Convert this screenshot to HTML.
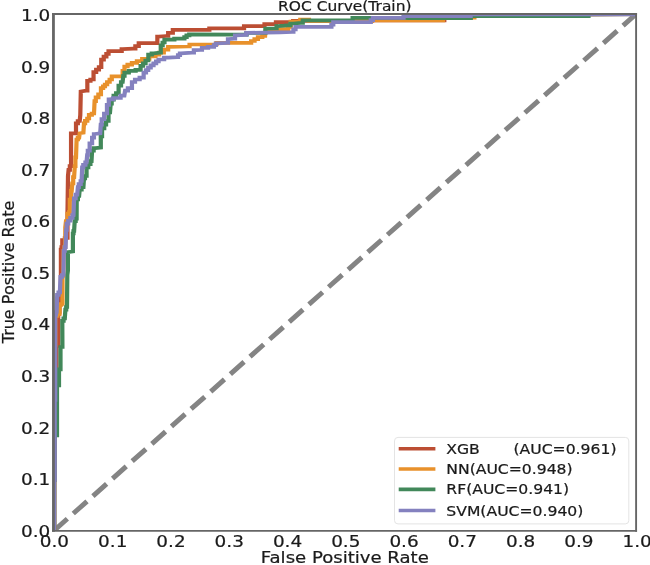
<!DOCTYPE html>
<html><head><meta charset="utf-8"><title>ROC Curve(Train)</title>
<style>
html,body{margin:0;padding:0;background:#fff;}
svg{display:block;filter:blur(0.35px);}
text{font-family:"DejaVu Sans","Liberation Sans",sans-serif;fill:#1a1a1a;stroke:#1a1a1a;stroke-width:0.22px;}
.tick{font-size:15.6px;}
.lab{font-size:16px;}
.sm{font-size:13.7px;}
.curve{fill:none;stroke-width:3.7;stroke-linejoin:miter;stroke-linecap:butt;}
</style></head><body>
<svg width="650" height="565" viewBox="0 0 650 565">
<rect width="650" height="565" fill="#fff"/>
<defs><clipPath id="ax"><rect x="53.45" y="14.1" width="582.65" height="516.8"/></clipPath></defs>
<g clip-path="url(#ax)">
<line x1="53.650000000000006" y1="530.9" x2="636.1" y2="14.1" stroke="#848484" stroke-width="4.95" stroke-dasharray="18.33 7.92"/>
<path class="curve" transform="scale(1.14,1)" stroke="#BC4E33" d="M47.54,530.90 L47.54,480.00 L47.89,480.00 L47.89,368.00 L49.56,368.00 L49.56,346.00 L51.05,346.00 L51.05,314.00 L51.62,314.00 L51.62,312.00 L52.19,312.00 L52.19,296.00 L52.81,296.00 L52.81,294.00 L53.42,294.00 L53.42,249.60 L54.04,249.60 L54.04,247.00 L54.65,247.00 L54.65,240.00 L56.93,240.00 L56.93,238.00 L59.21,238.00 L59.21,212.00 L59.65,176.00 L60.18,169.80 L61.25,169.80 L61.25,166.10 L62.32,166.10 L62.32,133.30 L66.67,133.30 L66.67,123.40 L68.29,123.40 L68.29,121.00 L69.91,121.00 L70.44,114.80 L70.88,91.50 L75.53,90.70 L76.62,90.70 L76.62,80.80 L77.72,80.80 L79.34,80.80 L79.34,79.50 L80.96,79.50 L82.06,79.50 L82.06,72.10 L83.16,72.10 L84.36,72.10 L84.36,69.65 L85.57,69.65 L86.78,69.65 L86.78,67.20 L87.98,67.20 L88.82,67.20 L88.82,59.70 L89.65,59.70 L91.01,59.70 L91.01,56.60 L92.37,56.60 L93.31,56.60 L93.31,53.85 L94.25,53.85 L95.20,53.85 L95.20,51.10 L96.14,51.10 L105.96,51.10 L106.75,51.10 L106.75,49.20 L107.54,49.20 L116.84,48.60 L118.73,48.60 L118.73,46.10 L120.61,46.10 L121.71,46.10 L121.71,43.20 L122.81,43.20 L136.93,43.20 L138.03,43.20 L138.03,36.60 L139.12,36.60 L145.61,36.00 L147.50,36.00 L147.50,32.90 L149.39,32.90 L151.58,32.90 L151.58,29.80 L153.77,29.80 L182.54,29.80 L183.64,29.80 L183.64,28.30 L184.74,28.30 L212.98,28.30 L214.08,28.30 L214.08,26.10 L215.18,26.10 L230.96,26.10 L232.02,26.10 L232.02,24.20 L233.07,24.20 L240.70,24.20 L242.06,24.20 L242.06,22.10 L243.42,22.10 L256.40,22.10 L257.15,22.10 L257.15,20.80 L257.89,20.80 L326.32,20.80 L326.32,20.40 L389.74,20.40 L389.74,17.90 L412.28,17.90 L412.28,16.10 L514.04,16.10 L514.04,14.30 L557.89,14.10"/>
<path class="curve" transform="scale(1.14,1)" stroke="#E8912B" d="M47.54,530.90 L47.54,480.00 L47.89,480.00 L47.89,345.00 L48.42,345.00 L48.42,316.00 L50.35,316.00 L50.35,314.00 L52.28,314.00 L52.28,305.00 L53.55,305.00 L53.55,304.00 L54.82,304.00 L54.82,278.00 L55.53,276.00 L55.79,251.00 L56.49,251.00 L56.49,247.00 L57.19,247.00 L57.28,227.30 L57.89,221.10 L59.25,221.10 L59.25,213.70 L60.61,213.70 L60.70,211.90 L61.23,211.90 L61.23,199.50 L61.75,199.50 L62.32,199.50 L62.32,190.90 L62.89,190.90 L63.42,183.40 L64.21,183.40 L64.21,177.20 L65.00,177.20 L65.61,166.10 L66.14,166.10 L66.14,157.40 L66.67,157.40 L67.19,139.50 L68.29,139.50 L68.29,137.70 L69.39,137.70 L69.91,133.30 L73.16,132.70 L73.68,123.40 L74.65,123.40 L74.65,120.95 L75.61,120.95 L76.58,120.95 L76.58,118.50 L77.54,118.50 L78.07,118.50 L78.07,114.80 L78.60,114.80 L80.53,114.80 L80.53,113.50 L82.46,113.50 L82.98,101.10 L84.04,101.10 L84.04,97.40 L85.09,97.40 L86.27,97.40 L86.27,94.40 L87.46,94.40 L88.55,94.40 L88.55,88.20 L89.65,88.20 L90.46,88.20 L90.46,86.35 L91.27,86.35 L92.08,86.35 L92.08,84.50 L92.89,84.50 L93.99,84.50 L93.99,82.00 L95.09,82.00 L96.18,82.00 L96.18,79.50 L97.28,79.50 L98.07,79.50 L98.07,76.40 L98.86,76.40 L107.02,76.40 L107.59,76.40 L107.59,70.90 L108.16,70.90 L109.21,70.90 L109.21,66.50 L110.26,66.50 L111.89,66.50 L111.89,64.70 L113.51,64.70 L115.70,64.70 L115.70,62.80 L117.89,62.80 L120.09,62.80 L120.09,61.20 L122.28,61.20 L124.74,61.20 L124.74,58.90 L127.19,58.90 L130.96,58.90 L130.96,56.40 L134.74,56.40 L136.36,56.40 L136.36,54.55 L137.98,54.55 L139.61,54.55 L139.61,52.70 L141.23,52.70 L143.68,52.70 L143.68,49.60 L146.14,49.60 L147.50,49.60 L147.50,46.90 L148.86,46.90 L165.18,46.50 L166.27,46.50 L166.27,44.50 L167.37,44.50 L189.04,44.50 L189.91,44.50 L189.91,42.90 L190.79,42.90 L218.95,42.80 L220.31,42.80 L220.31,41.00 L221.67,41.00 L223.29,41.00 L223.29,39.10 L224.91,39.10 L226.27,39.10 L226.27,37.20 L227.63,37.20 L230.09,37.20 L230.09,36.00 L232.54,36.00 L232.89,31.00 L238.95,31.00 L238.95,29.20 L245.00,29.20 L251.58,29.20 L252.89,29.20 L252.89,27.00 L254.21,27.00 L254.96,27.00 L254.96,21.60 L255.70,21.60 L261.84,21.60 L263.38,21.60 L263.38,19.60 L264.91,19.60 L271.05,19.60 L271.05,20.80 L326.32,20.80 L326.32,20.30 L388.60,20.30 L388.60,17.70 L416.14,17.70 L416.14,16.10 L514.04,16.10 L514.04,14.30 L557.89,14.10"/>
<path class="curve" transform="scale(1.14,1)" stroke="#42885A" d="M47.54,530.90 L47.54,480.00 L47.89,480.00 L47.89,435.30 L50.00,435.30 L50.00,385.30 L51.75,385.30 L51.75,369.40 L53.07,369.40 L53.07,347.00 L54.74,347.00 L54.65,320.80 L55.75,320.80 L55.75,318.30 L56.84,318.30 L57.37,309.60 L58.07,309.60 L58.07,307.00 L58.77,307.00 L59.04,275.00 L59.56,270.70 L59.56,252.10 L63.95,251.50 L63.95,233.50 L64.47,233.50 L64.47,231.00 L65.00,231.00 L65.53,221.10 L66.36,221.10 L66.36,218.70 L67.19,218.70 L67.28,199.50 L68.33,199.50 L68.33,195.80 L69.39,195.80 L69.91,189.60 L71.54,189.60 L71.54,187.20 L73.16,187.20 L73.68,178.50 L74.52,178.50 L74.52,176.00 L75.35,176.00 L75.92,176.00 L75.92,167.30 L76.49,167.30 L77.43,167.30 L77.43,164.20 L78.38,164.20 L79.32,164.20 L79.32,161.10 L80.26,161.10 L80.79,150.70 L82.15,150.70 L82.15,148.20 L83.51,148.20 L88.42,147.60 L88.42,136.40 L89.52,136.40 L89.52,128.40 L90.61,128.40 L91.43,128.40 L91.43,124.70 L92.24,124.70 L93.05,124.70 L93.05,121.00 L93.86,121.00 L95.18,121.00 L95.18,112.30 L96.49,112.30 L97.11,103.60 L97.96,103.60 L97.96,99.60 L98.82,99.60 L99.67,99.60 L99.67,95.60 L100.53,95.60 L101.89,95.60 L101.89,93.20 L103.25,93.20 L104.04,93.20 L104.04,85.70 L104.82,85.70 L106.18,85.70 L106.18,82.00 L107.54,82.00 L108.16,75.80 L109.21,75.80 L109.21,72.70 L110.26,72.70 L112.98,72.70 L112.98,70.90 L115.70,70.90 L118.99,70.90 L118.99,69.90 L122.28,69.90 L123.33,69.90 L123.33,65.90 L124.39,65.90 L125.48,65.90 L125.48,63.40 L126.58,63.40 L127.68,63.40 L127.68,60.50 L128.77,60.50 L130.13,60.50 L130.13,54.60 L131.49,54.60 L133.11,54.60 L133.11,53.30 L134.74,53.30 L140.18,52.70 L141.01,52.70 L141.01,45.30 L141.84,45.30 L142.65,45.30 L142.65,42.50 L143.46,42.50 L144.28,42.50 L144.28,39.70 L145.09,39.70 L152.94,39.70 L152.94,38.70 L160.79,38.70 L161.75,38.70 L161.75,37.05 L162.72,37.05 L163.68,37.05 L163.68,35.40 L164.65,35.40 L166.01,35.40 L166.01,34.40 L167.37,34.40 L205.35,34.60 L215.79,34.60 L216.32,34.60 L216.32,33.00 L216.84,33.00 L232.02,33.00 L232.81,33.00 L232.81,28.60 L233.60,28.60 L241.75,28.30 L242.59,28.30 L242.59,26.10 L243.42,26.10 L249.39,25.70 L252.11,25.30 L254.78,25.30 L254.78,23.50 L257.46,23.50 L263.95,22.80 L265.57,22.80 L265.57,20.40 L267.19,20.40 L308.25,20.40 L309.30,20.40 L309.30,17.90 L310.35,17.90 L355.26,17.90 L357.89,18.05 L412.98,18.05 L412.98,16.10 L516.23,16.10 L516.23,14.30 L557.89,14.10"/>
<path class="curve" transform="scale(1.14,1)" stroke="#8481BF" d="M47.54,530.90 L47.54,480.00 L47.98,480.00 L47.98,400.00 L48.42,400.00 L48.42,314.60 L49.04,314.60 L49.04,312.00 L49.65,312.00 L50.18,294.80 L51.36,294.80 L51.36,292.30 L52.54,292.30 L53.07,276.80 L54.34,276.80 L54.34,275.00 L55.61,275.00 L55.96,250.90 L56.75,250.90 L56.75,247.20 L57.54,247.20 L58.07,229.80 L58.51,229.80 L58.51,223.60 L58.95,223.60 L59.87,223.60 L59.87,220.73 L60.79,220.73 L61.71,220.73 L61.71,217.87 L62.63,217.87 L63.55,217.87 L63.55,215.00 L64.47,215.00 L65.00,198.30 L66.36,198.30 L66.36,194.60 L67.72,194.60 L68.33,187.20 L69.14,187.20 L69.14,184.10 L69.96,184.10 L70.77,184.10 L70.77,181.00 L71.58,181.00 L72.11,167.30 L73.05,167.30 L73.05,164.85 L73.99,164.85 L74.93,164.85 L74.93,162.40 L75.88,162.40 L76.49,155.00 L77.02,155.00 L77.02,150.70 L77.54,150.70 L78.64,150.70 L78.64,143.30 L79.74,143.30 L80.79,143.30 L80.79,137.70 L81.84,137.70 L82.41,137.70 L82.41,134.00 L82.98,134.00 L87.89,133.30 L88.42,124.70 L89.21,124.70 L89.21,119.10 L90.00,119.10 L91.36,119.10 L91.36,113.50 L92.72,113.50 L93.82,113.50 L93.82,104.90 L94.91,104.90 L95.44,104.90 L95.44,99.30 L95.96,99.30 L99.25,99.30 L99.25,98.00 L102.54,98.00 L105.79,98.00 L105.79,95.60 L109.04,95.60 L109.74,90.70 L112.19,90.70 L112.19,88.20 L114.65,88.20 L115.75,88.20 L115.75,82.00 L116.84,82.00 L118.46,82.00 L118.46,79.50 L120.09,79.50 L122.50,79.50 L122.50,77.70 L124.91,77.70 L126.01,77.70 L126.01,72.70 L127.11,72.70 L128.07,72.70 L128.07,70.15 L129.04,70.15 L130.00,70.15 L130.00,67.60 L130.96,67.60 L132.19,67.60 L132.19,65.45 L133.42,65.45 L134.65,65.45 L134.65,63.30 L135.88,63.30 L136.95,63.30 L136.95,61.40 L138.03,61.40 L139.10,61.40 L139.10,59.50 L140.18,59.50 L143.99,59.50 L143.99,57.70 L147.81,57.70 L155.35,57.10 L156.18,57.10 L156.18,55.20 L157.02,55.20 L157.85,55.20 L157.85,53.30 L158.68,53.30 L168.42,52.70 L170.04,52.70 L170.04,50.20 L171.67,50.20 L176.05,49.90 L177.15,49.90 L177.15,47.80 L178.25,47.80 L182.54,47.80 L182.54,46.90 L186.84,46.90 L187.68,46.90 L187.68,45.15 L188.51,45.15 L189.34,45.15 L189.34,43.40 L190.18,43.40 L199.39,42.80 L199.96,42.80 L199.96,39.10 L200.53,39.10 L205.35,38.70 L206.18,38.70 L206.18,35.40 L207.02,35.40 L215.18,34.80 L216.01,34.80 L216.01,32.90 L216.84,32.90 L245.61,32.30 L256.40,32.00 L257.35,32.00 L257.35,29.45 L258.29,29.45 L259.23,29.45 L259.23,26.90 L260.18,26.90 L289.91,26.90 L290.72,26.90 L290.72,24.55 L291.54,24.55 L292.35,24.55 L292.35,22.20 L293.16,22.20 L324.30,22.20 L325.24,22.20 L325.24,20.05 L326.18,20.05 L327.13,20.05 L327.13,17.90 L328.07,17.90 L352.37,17.90 L353.99,17.90 L353.99,16.10 L355.61,16.10 L412.81,16.10 L412.81,14.40 L557.89,14.40"/>
</g>
<line x1="53.45" y1="13.1" x2="53.45" y2="531.8" stroke="#666" stroke-width="2.8"/>
<line x1="636.1" y1="13.1" x2="636.1" y2="531.8" stroke="#666" stroke-width="1.9"/>
<line x1="52.050000000000004" y1="14.1" x2="637.0500000000001" y2="14.1" stroke="#666" stroke-width="2"/>
<line x1="52.050000000000004" y1="530.9" x2="637.0500000000001" y2="530.9" stroke="#666" stroke-width="1.8"/>
<text class="tick" text-anchor="middle" transform="translate(54.45,546.7) scale(1.18,1)">0.0</text>
<text class="tick" text-anchor="end" transform="translate(50.2,536.75) scale(1.18,1)">0.0</text>
<text class="tick" text-anchor="middle" transform="translate(112.715,546.7) scale(1.18,1)">0.1</text>
<text class="tick" text-anchor="end" transform="translate(50.2,485.18) scale(1.18,1)">0.1</text>
<text class="tick" text-anchor="middle" transform="translate(170.98,546.7) scale(1.18,1)">0.2</text>
<text class="tick" text-anchor="end" transform="translate(50.2,433.61) scale(1.18,1)">0.2</text>
<text class="tick" text-anchor="middle" transform="translate(229.245,546.7) scale(1.18,1)">0.3</text>
<text class="tick" text-anchor="end" transform="translate(50.2,382.04) scale(1.18,1)">0.3</text>
<text class="tick" text-anchor="middle" transform="translate(287.51,546.7) scale(1.18,1)">0.4</text>
<text class="tick" text-anchor="end" transform="translate(50.2,330.47) scale(1.18,1)">0.4</text>
<text class="tick" text-anchor="middle" transform="translate(345.775,546.7) scale(1.18,1)">0.5</text>
<text class="tick" text-anchor="end" transform="translate(50.2,278.9) scale(1.18,1)">0.5</text>
<text class="tick" text-anchor="middle" transform="translate(404.04,546.7) scale(1.18,1)">0.6</text>
<text class="tick" text-anchor="end" transform="translate(50.2,227.33) scale(1.18,1)">0.6</text>
<text class="tick" text-anchor="middle" transform="translate(462.305,546.7) scale(1.18,1)">0.7</text>
<text class="tick" text-anchor="end" transform="translate(50.2,175.76) scale(1.18,1)">0.7</text>
<text class="tick" text-anchor="middle" transform="translate(520.57,546.7) scale(1.18,1)">0.8</text>
<text class="tick" text-anchor="end" transform="translate(50.2,124.19) scale(1.18,1)">0.8</text>
<text class="tick" text-anchor="middle" transform="translate(578.835,546.7) scale(1.18,1)">0.9</text>
<text class="tick" text-anchor="end" transform="translate(50.2,72.62) scale(1.18,1)">0.9</text>
<text class="tick" text-anchor="middle" transform="translate(637.1,546.7) scale(1.18,1)">1.0</text>
<text class="tick" text-anchor="end" transform="translate(50.2,21.05) scale(1.18,1)">1.0</text>
<text class="lab" text-anchor="middle" transform="translate(344.775,562.6) scale(1.13,1)">False Positive Rate</text>
<text class="lab" text-anchor="middle" transform="translate(14.2,272) rotate(-90) scale(1,1)">True Positive Rate</text>
<text class="sm" text-anchor="middle" transform="translate(344.775,11) scale(1.13,1)">ROC Curve(Train)</text>
<rect x="394.5" y="437.4" width="234.3" height="86.5" rx="3.5" ry="3.5" fill="#fff" fill-opacity="0.8" stroke="#e4e4e4" stroke-width="1"/>
<line x1="398.7" y1="448.8" x2="435.4" y2="448.8" stroke="#BC4E33" stroke-width="3.6"/>
<text class="sm" text-anchor="start" transform="translate(446.3,453.8) scale(1.14,1)">XGB</text>
<line x1="398.7" y1="469" x2="435.4" y2="469" stroke="#E8912B" stroke-width="3.6"/>
<text class="sm" text-anchor="start" transform="translate(446.3,474) scale(1.14,1)">NN(AUC=0.948)</text>
<line x1="398.7" y1="489.4" x2="435.4" y2="489.4" stroke="#42885A" stroke-width="3.6"/>
<text class="sm" text-anchor="start" transform="translate(446.3,494.4) scale(1.14,1)">RF(AUC=0.941)</text>
<line x1="398.7" y1="510.5" x2="435.4" y2="510.5" stroke="#8481BF" stroke-width="3.6"/>
<text class="sm" text-anchor="start" transform="translate(446.3,515.5) scale(1.14,1)">SVM(AUC=0.940)</text>
<text class="sm" text-anchor="start" transform="translate(513.5,453.8) scale(1.14,1)">(AUC=0.961)</text>
</svg>
</body></html>
